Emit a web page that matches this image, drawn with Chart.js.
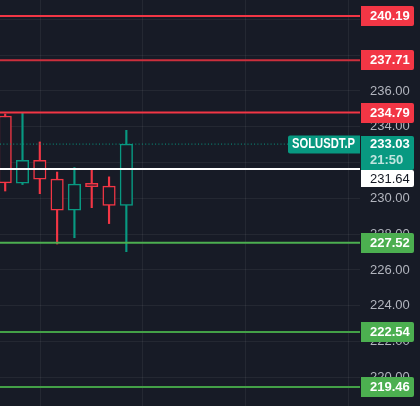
<!DOCTYPE html>
<html>
<head>
<meta charset="utf-8">
<script src="https://cdn.jsdelivr.net/npm/chart.js@4.4.1/dist/chart.umd.min.js"></script>
<style>
  html, body { margin: 0; padding: 0; background: #171b26; }
  #wrap { width: 420px; height: 406px; position: relative; overflow: hidden; }
</style>
</head>
<body>
<div id="wrap"><canvas id="graph"></canvas></div>
<script>
// Bougies (index = position dans le temps)
var opens  = [234.60, 230.85, 232.13, 231.07, 229.34, 230.84, 230.68, 229.61];
var highs  = [234.71, 234.79, 233.15, 231.47, 231.72, 231.59, 231.20, 233.80];
var lows   = [230.41, 230.77, 230.26, 227.45, 227.80, 229.48, 228.59, 227.02];
var closes = [230.86, 232.13, 231.07, 229.34, 230.79, 230.65, 229.61, 233.03];

// Niveaux horizontaux
var resistances = [240.19, 237.71, 234.79];
var supports = [227.52, 222.54, 219.46];
var markLevel = 231.64;
var lastPrice = 233.03;
var symbolName = "SOLUSDT.P";
var countdown = "21:50";

// Graduations
var priceTicks = [220, 222, 224, 226, 228, 230, 232, 234, 236, 238, 240];
var timeGrid = [2.06, 7.95, 13.9, 19.85];

var xMin = -0.3, xMax = 20.5;
var yMin = 218.40, yMax = 241.08;

var RED = '#f23645';
var TEAL = '#089981';
var GREEN = '#4caf50';
var BG = '#171b26';

var candleColors = [];
var wicks = [];
var bodies = [];
for (var i = 0; i < opens.length; i++) {
    candleColors.push(closes[i] >= opens[i] ? TEAL : RED);
    wicks.push({x: i, y: [lows[i], highs[i]]});
    bodies.push({x: i, y: [opens[i], closes[i]]});
}

function hLine(v, color, width, dash) {
    return {
        type: 'line',
        data: [{x: xMin, y: v}, {x: xMax, y: v}],
        borderColor: color,
        borderWidth: width,
        borderDash: dash || [],
        pointRadius: 0,
        order: -1
    };
}

var datasets = [
    {
        data: wicks,
        backgroundColor: candleColors,
        borderWidth: 0,
        barThickness: 1.5,
        grouped: false,
        order: 2
    },
    {
        data: bodies,
        backgroundColor: BG,
        borderColor: candleColors,
        borderWidth: 1.5,
        borderSkipped: false,
        barThickness: 12.5,
        grouped: false,
        order: 1
    },
    hLine(lastPrice, TEAL, 1, [1, 2.3])
];
datasets.push(hLine(resistances[0], RED, 2));
datasets.push(hLine(resistances[1], '#cc2f3c', 2));
datasets.push(hLine(resistances[2], RED, 2));
datasets.push(hLine(supports[0], GREEN, 2));
datasets.push(hLine(supports[1], '#43a047', 2));
datasets.push(hLine(supports[2], '#43a047', 2));
datasets.push(hLine(markLevel, '#ffffff', 2));

// Rectangle aux coins arrondis
function box(ctx, x, y, w, h, r, left, right) {
    ctx.beginPath();
    ctx.moveTo(x + (left ? r : 0), y);
    ctx.lineTo(x + w - (right ? r : 0), y);
    if (right) ctx.quadraticCurveTo(x + w, y, x + w, y + r);
    ctx.lineTo(x + w, y + h - (right ? r : 0));
    if (right) ctx.quadraticCurveTo(x + w, y + h, x + w - r, y + h);
    ctx.lineTo(x + (left ? r : 0), y + h);
    if (left) ctx.quadraticCurveTo(x, y + h, x, y + h - r);
    ctx.lineTo(x, y + (left ? r : 0));
    if (left) ctx.quadraticCurveTo(x, y, x + r, y);
    ctx.closePath();
    ctx.fill();
}

// Etiquettes sur l'axe des prix
var priceLabels = {
    id: 'priceLabels',
    afterDraw: function(chart) {
        var ctx = chart.ctx;
        var ys = chart.scales.y;
        var left = chart.chartArea.right + 1;
        var w = 53;
        var tx = chart.chartArea.right + 10;
        ctx.save();
        ctx.textBaseline = 'middle';
        ctx.textAlign = 'left';
        ctx.font = 'bold 13px "Liberation Sans", Arial, sans-serif';

        function tag(v, color, textColor) {
            var y = Math.round(ys.getPixelForValue(v));
            ctx.fillStyle = color;
            box(ctx, left, y - 10, w, 20, 2, false, true);
            ctx.fillStyle = textColor;
            ctx.fillText(v.toFixed(2), tx, y + 0.5, 40);
        }
        resistances.forEach(function(v) { tag(v, RED, '#ffffff'); });
        supports.forEach(function(v) { tag(v, GREEN, '#ffffff'); });

        // prix courant + compte a rebours
        var py = Math.round(ys.getPixelForValue(lastPrice));
        var top = py - 8;
        ctx.fillStyle = TEAL;
        box(ctx, left, top, w, 34, 2, false, true);
        ctx.fillStyle = '#ffffff';
        ctx.fillText(lastPrice.toFixed(2), tx, top + 8.5, 40);
        ctx.fillStyle = 'rgba(255,255,255,0.75)';
        ctx.fillText(countdown, tx, top + 24, 40);

        // nom du symbole
        ctx.fillStyle = TEAL;
        box(ctx, chart.chartArea.right - 72, py - 8.5, 72, 18, 2, true, false);
        ctx.fillStyle = '#ffffff';
        ctx.font = 'bold 14px "Liberation Sans", Arial, sans-serif';
        ctx.fillText(symbolName, chart.chartArea.right - 68, py + 0.5, 63);

        // niveau blanc, decale sous le prix courant
        var my = Math.round(ys.getPixelForValue(markLevel));
        var mtop = Math.max(my - 9.5, top + 34);
        ctx.fillStyle = '#ffffff';
        box(ctx, left, mtop, w, 17, 2, false, true);
        ctx.fillStyle = '#131722';
        ctx.font = '13px "Liberation Sans", Arial, sans-serif';
        ctx.fillText(markLevel.toFixed(2), tx, mtop + 9, 40);
        ctx.restore();
    }
};

function noPad(scale) {
    scale.paddingTop = 0;
    scale.paddingBottom = 0;
    scale.paddingLeft = 0;
    scale.paddingRight = 0;
}

var ctx = document.getElementById('graph').getContext('2d');
window.myChart = new Chart(ctx, {
    type: 'bar',
    data: {datasets: datasets},
    options: {
        responsive: true,
        maintainAspectRatio: false,
        animation: false,
        layout: {padding: 0},
        plugins: {legend: {display: false}, tooltip: {enabled: false}},
        scales: {
            x: {
                type: 'linear',
                min: xMin,
                max: xMax,
                offset: false,
                afterBuildTicks: function(scale) {
                    scale.ticks = timeGrid.map(function(v) { return {value: v}; });
                },
                afterFit: function(scale) { scale.height = 0; noPad(scale); },
                ticks: {display: false},
                grid: {color: 'rgba(255,255,255,0.06)', drawTicks: false, offset: false},
                border: {display: false}
            },
            y: {
                position: 'right',
                min: yMin,
                max: yMax,
                afterBuildTicks: function(scale) {
                    scale.ticks = priceTicks.map(function(v) { return {value: v}; });
                },
                afterFit: function(scale) { scale.width = 60; noPad(scale); },
                ticks: {
                    color: '#b2b5be',
                    padding: 10,
                    font: {family: '"Liberation Sans", Arial, sans-serif', size: 13},
                    callback: function(v) { return Number(v).toFixed(2); }
                },
                grid: {color: 'rgba(255,255,255,0.06)', drawTicks: false},
                border: {display: false}
            }
        }
    },
    plugins: [priceLabels]
});
</script>
</body>
</html>
